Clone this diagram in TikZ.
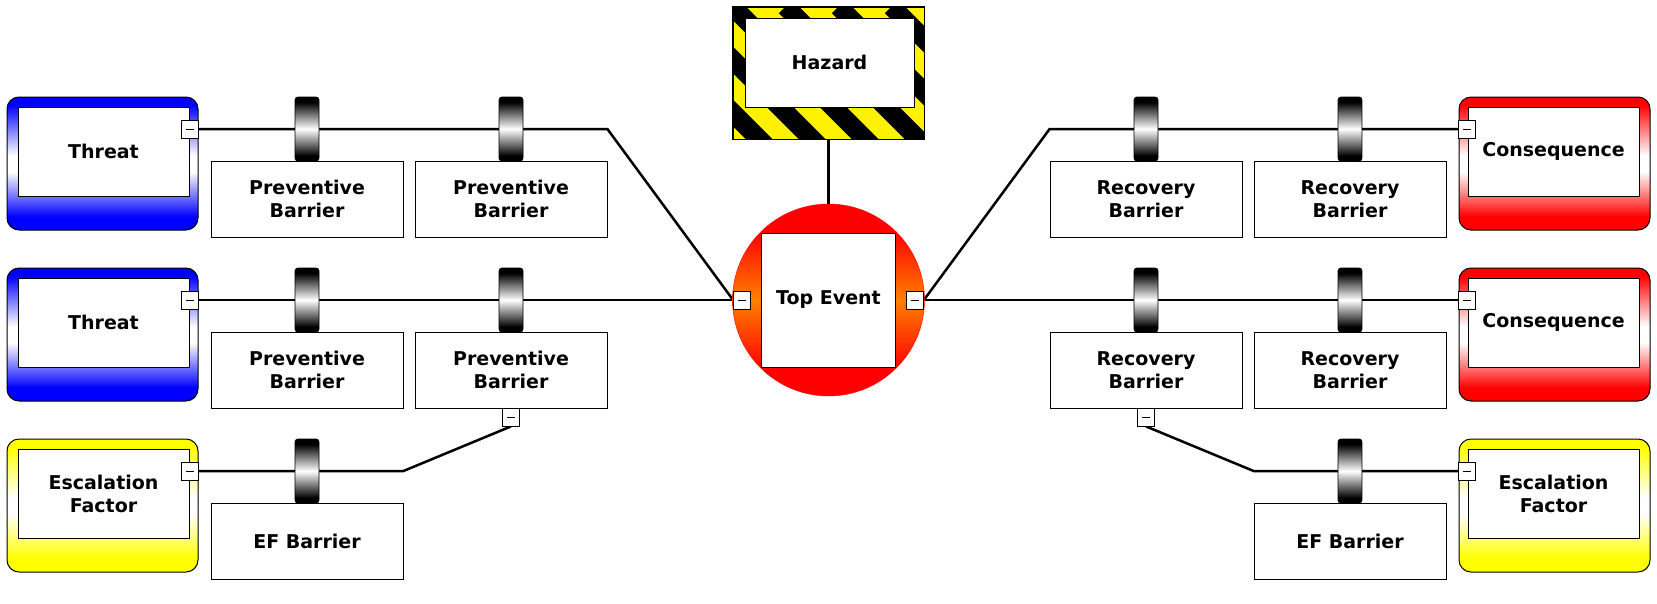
\documentclass[tikz,border=0pt]{standalone}
\usepackage{fontspec}
\setmainfont{DejaVu Sans}
\usetikzlibrary{backgrounds}
\pgfdeclareverticalshading{tefill}{100bp}{color(0bp)=(red); color(25bp)=(red); color(32bp)=(red); color(50bp)=(orange); color(68bp)=(red); color(75bp)=(red); color(100bp)=(red)}
\pgfdeclareverticalshading{cylfill}{100bp}{color(0bp)=(black); color(25bp)=(black); color(29bp)=(black); color(50bp)=(white); color(71bp)=(black); color(75bp)=(black); color(100bp)=(black)}
\pgfdeclareverticalshading{thfill}{100bp}{color(0bp)=(blue); color(25bp)=(blue); color(30bp)=(blue); color(47bp)=(white); color(53bp)=(white); color(72bp)=(blue); color(100bp)=(blue)}
\pgfdeclareverticalshading{cqfill}{100bp}{color(0bp)=(red); color(25bp)=(red); color(30bp)=(red); color(47bp)=(white); color(53bp)=(white); color(72bp)=(red); color(100bp)=(red)}
\pgfdeclareverticalshading{effill}{100bp}{color(0bp)=(yellow); color(25bp)=(yellow); color(30bp)=(yellow); color(47bp)=(white); color(53bp)=(white); color(72bp)=(yellow); color(100bp)=(yellow)}

\begin{document}
\begin{tikzpicture}[x=1pt,y=-1pt,
  lbl/.style={font=\bfseries\fontsize{19}{23}\selectfont,align=center},
  conn/.style={line width=2.5pt},
  outbox/.style={draw,line width=1pt,rounded corners=12pt,minimum width=191pt,minimum height=133pt,inner sep=0pt,
    shading=#1},
  inbox/.style={draw,fill=white,line width=1pt,minimum width=171pt,minimum height=89pt,inner sep=0pt,lbl},
  barbox/.style={draw,fill=white,line width=0.8pt,minimum width=192pt,minimum height=76pt,inner sep=0pt,lbl},
  cyl/.style={draw,line width=0.8pt,rounded corners=3pt,minimum width=24pt,minimum height=64pt,inner sep=0pt,
    shading=cylfill},
  mbox/.style={draw,fill=white,line width=0.8pt,minimum width=17pt,minimum height=18pt,inner sep=0pt,
    path picture={\draw[line width=0.8pt] ([xshift=-4pt]path picture bounding box.center)
      -- ([xshift=4pt]path picture bounding box.center);}}
]
  \useasboundingbox (0,0) rectangle (1657,603);

  % left side: threats and escalation factor
  \node[outbox=thfill] (th1o) at (102.5,163.5) {};
  \node[inbox]         (th1)  at (103.5,151.5) {Threat};
  \node[mbox]          (th1m) at (190,129) {};
  \node[outbox=thfill] (th2o) at (102.5,334.5) {};
  \node[inbox]         (th2)  at (103.5,322.5) {Threat};
  \node[mbox]          (th2m) at (190,300) {};
  \node[outbox=effill] (ef1o) at (102.5,505.5) {};
  \node[inbox]         (ef1)  at (103.5,493.5) {Escalation\\Factor};
  \node[mbox]          (ef1m) at (190,471) {};

  \node[barbox] (pb11) at (307,199) {Preventive\\Barrier};
  \node[cyl]    (k11)  at (307,129) {};
  \node[barbox] (pb12) at (511,199) {Preventive\\Barrier};
  \node[cyl]    (k12)  at (511,129) {};
  \node[barbox] (pb21) at (307,370) {Preventive\\Barrier};
  \node[cyl]    (k21)  at (307,300) {};
  \node[barbox] (pb22) at (511,370) {Preventive\\Barrier};
  \node[cyl]    (k22)  at (511,300) {};
  \node[mbox]   (pb22m) at (511,417) {};
  \node[barbox] (efb1) at (307,541) {EF Barrier};
  \node[cyl]    (k31)  at (307,471) {};

  % hazard and top event
  \node[draw,line width=1pt,fill=yellow,minimum width=191pt,minimum height=132pt,inner sep=0pt] (hzo) at (828.5,73) {};
  \begin{scope}
    \clip (hzo.north west) rectangle (hzo.south east);
    \foreach \i in {-4,...,4}
      \draw[line width=19pt] ([xshift=\i*53pt]hzo.north west) -- ++(200,200);
  \end{scope}
  \draw[line width=1pt] (hzo.north west) rectangle (hzo.south east);
  \node[draw,fill=white,line width=1pt,minimum width=169pt,minimum height=89pt,inner sep=0pt,lbl] (hz) at (829.5,62.5) {Hazard};

  \node[circle,draw=red,shading=tefill,minimum size=192pt,inner sep=0pt] (teo) at (828.5,300) {};
  \node[draw,fill=white,line width=1pt,minimum size=134pt,inner sep=0pt,lbl] (te) at (828.5,300) {Top Event};
  \node[mbox] (tel) at (742,300) {};
  \node[mbox] (ter) at (915,300) {};

  % right side: consequences and escalation factor
  \node[barbox] (rb11) at (1146,199) {Recovery\\Barrier};
  \node[cyl]    (q11)  at (1146,129) {};
  \node[barbox] (rb12) at (1350,199) {Recovery\\Barrier};
  \node[cyl]    (q12)  at (1350,129) {};
  \node[barbox] (rb21) at (1146,370) {Recovery\\Barrier};
  \node[cyl]    (q21)  at (1146,300) {};
  \node[barbox] (rb22) at (1350,370) {Recovery\\Barrier};
  \node[cyl]    (q22)  at (1350,300) {};
  \node[mbox]   (rb21m) at (1146,417) {};
  \node[barbox] (efb2) at (1350,541) {EF Barrier};
  \node[cyl]    (q31)  at (1350,471) {};

  \node[outbox=cqfill] (cq1o) at (1554.5,163.5) {};
  \node[inbox]         (cq1)  at (1553.5,151.5) {Consequence};
  \node[mbox]          (cq1m) at (1467,129) {};
  \node[outbox=cqfill] (cq2o) at (1554.5,334.5) {};
  \node[inbox]         (cq2)  at (1553.5,322.5) {Consequence};
  \node[mbox]          (cq2m) at (1467,300) {};
  \node[outbox=effill] (ef2o) at (1554.5,505.5) {};
  \node[inbox]         (ef2)  at (1553.5,493.5) {Escalation\\Factor};
  \node[mbox]          (ef2m) at (1467,471) {};

  \begin{scope}[on background layer]
    \draw[conn] (th1m.east) -- (pb12.east |- th1m) -- (tel.west);
    \draw[conn] (th2m.east) -- (tel.west);
    \draw[conn] (ef1m.east) -- (pb21.east |- ef1m) -- (pb22m.south);
    \draw[conn] (ter.east) -- (rb11.west |- cq1m) -- (cq1m.west);
    \draw[conn] (ter.east) -- (cq2m.west);
    \draw[conn] (rb21m.south) -- (rb22.west |- ef2m) -- (ef2m.west);
    \draw[conn] (hzo.south) -- (teo.north);
  \end{scope}
\end{tikzpicture}
\end{document}
